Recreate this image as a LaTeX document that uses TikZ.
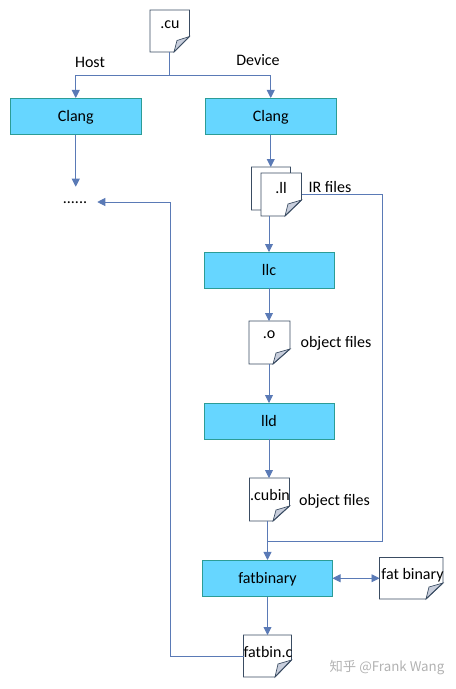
\documentclass[tikz,border=0pt]{standalone}
\usepackage{fontspec}
\setmainfont{Carlito}
\newfontfamily\cjk{Noto Sans CJK SC}
\usetikzlibrary{arrows.meta}
\definecolor{boxfill}{HTML}{66D6FF}
\definecolor{boxline}{HTML}{2C9C96}
\definecolor{flowblue}{HTML}{5A7AB6}
\definecolor{docline}{HTML}{3A4C62}
\definecolor{foldfill}{HTML}{C8CEDC}
\tikzset{
  procbox/.style={draw=boxline, fill=boxfill, line width=0.7pt, inner sep=0pt, outer sep=0pt, font=\fontsize{12}{14}\selectfont, text depth=1.5pt, text height=9.5pt},
  docbox/.style={inner sep=0pt, outer sep=0pt},
  doctext/.style={inner sep=0pt, font=\fontsize{12}{14}\selectfont},
  flowline/.style={flowblue, line width=0.65pt},
  flowarrow/.style={flowline, -{Triangle[length=6pt,width=6pt]}}
}
% name, left, top, right, bottom, fold x, fold y
\newcommand{\docfile}[7]{
  \node[docbox, minimum width={(#4-#2)*0.75pt}, minimum height={(#5-#3)*0.75pt}] (#1) at ({(#2+#4)/2},{(#3+#5)/2}) {};
  \fill[white] (#2,#3) -- (#4,#3) -- (#4,#7) -- (#6,#5) -- (#2,#5) -- cycle;
  \filldraw[draw=docline, fill=foldfill, line width=0.5pt] (#4,#7) -- (#6,#5) -- ({#6+3},{#7+4}) -- cycle;
  \draw[docline, line width=0.7pt] (#2,#3) -- (#4,#3) -- (#4,#7) -- (#6,#5) -- (#2,#5) -- cycle;
}
\begin{document}
\begin{tikzpicture}[x=0.75pt, y=-0.75pt]
\useasboundingbox (0,0) rectangle (456,689);

% boxes
\node[procbox, minimum width=98.6pt, minimum height=27.4pt] (clanghost) at (75.75,116.25) {Clang};
\node[procbox, minimum width=98.6pt, minimum height=27.4pt] (clangdev) at (270.75,116.25) {Clang};
\node[procbox, minimum width=97.5pt, minimum height=27pt] (llc) at (269,270) {llc};
\node[procbox, minimum width=97.5pt, minimum height=27pt] (lld) at (269,421) {lld};
\node[procbox, minimum width=97.5pt, minimum height=27.4pt] (fatbinary) at (267.5,578.25) {fatbinary};

% files
\docfile{cu}{150}{10}{189.5}{52}{174}{36.5}
\docfile{llback}{251.5}{167}{290.5}{210}{285}{200}
\docfile{ll}{261}{173}{301.5}{216}{285}{200}
\docfile{objo}{249}{321}{290}{364}{273}{349}
\docfile{cubin}{249.5}{478}{289.5}{521}{273}{506}
\docfile{fatbin}{379.5}{557.5}{443}{599}{426}{583}
\docfile{fatbinc}{243.5}{635}{291.5}{677}{275}{660}

\node[doctext] (culabel) at (170,25) {.cu};
\node[doctext] (lllabel) at (281,188) {.ll};
\node[doctext] (olabel) at (269,335) {.o};
\node[doctext] (cubinlabel) at (270,495.5) {.cubin};
\node[doctext] (fatbinlabel) at (412.5,575.5) {fat binary};
\node[doctext] (fatbinclabel) at (268,651.5) {fatbin.c};

% free labels
\node[doctext] (hostlabel) at (90,62.5) {Host};
\node[doctext] (devicelabel) at (258,60.5) {Device};
\node[doctext] (irlabel) at (330,187.5) {IR files};
\node[doctext] (objlabel) at (336,343) {object files};
\node[doctext] (cubinobj) at (334.5,501) {object files};
\node[doctext, minimum width=33pt, minimum height=22.5pt] (dots) at (75,202) {\raisebox{-2pt}{......}};
\node[inner sep=0pt, text=black!30, font=\cjk\fontsize{10}{12}\selectfont] (mark) at (387,668) {知乎 @Frank Wang};

% connectors
\coordinate (split) at (cu.south |- 0,75);
\coordinate (irjoin) at (382,541);
\draw[flowline] (cu.south) -- (split);
\draw[flowarrow] (split) -| (clanghost.north);
\draw[flowarrow] (split) -| (clangdev.north);
\draw[flowarrow] (clanghost.south) -- (clanghost.south |- dots.north);
\draw[flowarrow] (clangdev.south) -- (clangdev.south |- llback.north);
\draw[flowarrow] (llc.north |- ll.south) -- (llc.north);
\draw[flowarrow] (llc.south) -- (llc.south |- objo.north);
\draw[flowarrow] (llc.south |- objo.south) -- (llc.south |- lld.north);
\draw[flowarrow] (lld.south) -- (lld.south |- cubin.north);
\draw[flowarrow] (fatbinary.north |- cubin.south) -- (fatbinary.north);
\draw[flowline] (ll.east) -| (irjoin) -- (fatbinary.north |- irjoin);
\draw[flowarrow] (fatbinary.south) -- (fatbinc.north);
\draw[flowarrow, {Triangle[length=6pt,width=6pt]}-{Triangle[length=6pt,width=6pt]}] (fatbinary.east) -- (fatbinary.east -| fatbin.west);
\draw[flowarrow] (fatbinc.west) -| (170,202) -- (dots.east);
\end{tikzpicture}
\end{document}
